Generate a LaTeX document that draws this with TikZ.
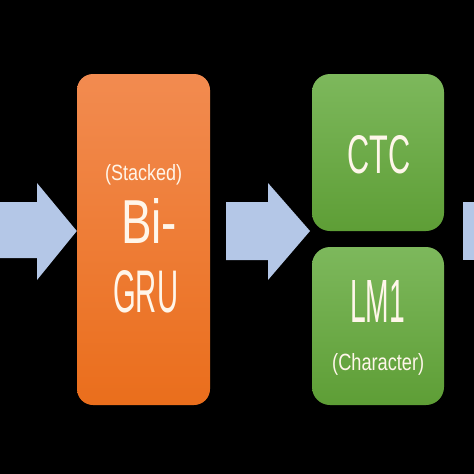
\documentclass[tikz,border=0pt]{standalone}
\usepackage{fontspec}
\setmainfont{Liberation Sans}
\usepackage{graphicx}
\definecolor{arrowblue}{HTML}{B4C7E7}
\definecolor{ortop}{HTML}{F28B50}
\definecolor{orbot}{HTML}{EA6E1C}
\definecolor{grtop}{HTML}{7DB85C}
\definecolor{grbot}{HTML}{5E9E36}
\definecolor{txt}{HTML}{FFF6EA}
\newcommand{\fitbox}[3]{\resizebox{#1pt}{#2pt}{#3}}
\tikzset{
  orangebox/.style={rectangle, rounded corners=16pt, top color=ortop, bottom color=orbot, draw=none, inner sep=0pt},
  greenbox/.style={rectangle, rounded corners=18pt, top color=grtop, bottom color=grbot, draw=none, inner sep=0pt},
  blockarrow/.style={fill=arrowblue, draw=none},
  label/.style={text=txt, inner sep=0pt, anchor=base west}
}
\begin{document}
\begin{tikzpicture}[x=1pt,y=-1pt]
\fill[black] (0,0) rectangle (474,474);
\useasboundingbox (0,0) rectangle (474,474);
% boxes
\node[orangebox, minimum width=133pt, minimum height=331pt] (gru) at (143.5,239.5) {};
\node[greenbox, minimum width=132pt, minimum height=157pt] (ctc) at (378,152.5) {};
\node[greenbox, minimum width=132pt, minimum height=158pt] (lm) at (378,326) {};
% arrows
\path[blockarrow] (0,202) -- (37,202) -- (37,183) -- (gru.west |- 0,231) -- (37,280) -- (37,258) -- (0,258) -- cycle;
\path[blockarrow] (226,202) -- (268,202) -- (268,183) -- (310,231) -- (268,280) -- (268,260) -- (226,260) -- cycle;
\path[blockarrow] (463,202) -- (474,202) -- (474,260) -- (463,260) -- cycle;
% labels
\node[label] (t1) at (105,180) {\fitbox{77}{16}{(Stacked)}};
\node[label] (t2) at (121,243) {\fitbox{56}{45}{Bi-}};
\node[label] (t3) at (113,312) {\fitbox{65}{42}{GRU}};
\node[label] (t4) at (347,173) {\fitbox{63}{38}{CTC}};
\node[label] (t5) at (350,322) {\fitbox{55}{42}{LM1}};
\node[label] (t6) at (332,370) {\fitbox{92}{17}{(Character)}};
\end{tikzpicture}
\end{document}
